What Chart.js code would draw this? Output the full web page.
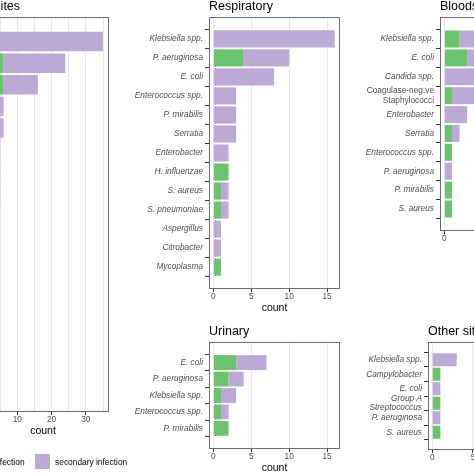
<!DOCTYPE html>
<html>
<head>
<meta charset="utf-8">
<script src="https://cdn.jsdelivr.net/npm/chart.js@4.4.1/dist/chart.umd.min.js"></script>
<style>
  html, body { margin: 0; padding: 0; width: 474px; height: 474px; overflow: hidden; background: #fff; }
  body { position: relative; }
  canvas { position: absolute; }
  #legend { position: absolute; left: -36px; top: 454px; height: 15px; display: flex; align-items: center;
            font: 8.4px 'Liberation Sans', Arial, sans-serif; color: #000; white-space: nowrap; }
  #legend .item { display: flex; align-items: center; margin-right: 10px; }
  #legend .key { width: 15px; height: 15px; margin-right: 5.5px; }
</style>
</head>
<body>
<canvas id="all"></canvas>
<canvas id="resp"></canvas>
<canvas id="blood"></canvas>
<canvas id="urin"></canvas>
<canvas id="other"></canvas>
<div id="legend"></div>
<script>
// series
const seriesNames = ["coinfection", "secondary infection"];

// all sites
const allCats = ["Klebsiella spp.", "E. coli", "P. aeruginosa", "Enterococcus spp.", "P. mirabilis", "Serratia", "Enterobacter", "Candida spp.", "Coagulase-neg.ve\nStaphylococci", "S. aureus", "H. influenzae", "S. pneumoniae", "Aspergillus", "Citrobacter", "Mycoplasma", "Campylobacter", "Group A\nStreptococcus"];
const allCo  = [3, 6, 6, 2, 3, 1, 0, 0, 1, 3, 2, 1, 0, 0, 1, 1, 1];
const allSec = [32, 18, 10, 4, 3, 4, 5, 5, 3, 1, 0, 1, 1, 1, 0, 0, 0];

// respiratory
const respCats = ["Klebsiella spp.", "P. aeruginosa", "E. coli", "Enterococcus spp.", "P. mirabilis", "Serratia", "Enterobacter", "H. influenzae", "S. aureus", "S. pneumoniae", "Aspergillus", "Citrobacter", "Mycoplasma"];
const respCo  = [0, 4, 0, 0, 0, 0, 0, 2, 1, 1, 0, 0, 1];
const respSec = [16, 6, 8, 3, 3, 3, 2, 0, 1, 1, 1, 1, 0];

// bloodstream
const bloodCats = ["Klebsiella spp.", "E. coli", "Candida spp.", "Coagulase-neg.ve\nStaphylococci", "Enterobacter", "Serratia", "Enterococcus spp.", "P. aeruginosa", "P. mirabilis", "S. aureus"];
const bloodCo  = [2, 3, 0, 1, 0, 1, 1, 0, 1, 1];
const bloodSec = [11, 5, 5, 3, 3, 1, 0, 1, 0, 0];

// urinary
const urinCats = ["E. coli", "P. aeruginosa", "Klebsiella spp.", "Enterococcus spp.", "P. mirabilis"];
const urinCo  = [3, 2, 1, 1, 2];
const urinSec = [4, 2, 2, 1, 0];

// other sites
const otherCats = ["Klebsiella spp.", "Campylobacter", "E. coli", "Group A\nStreptococcus", "P. aeruginosa", "S. aureus"];
const otherCo  = [0, 1, 0, 1, 0, 1];
const otherSec = [3, 0, 1, 0, 1, 0];

// tick labels
const ticksAll = [0, 5, 10, 15, 20, 25, 30, 35];
const ticksSite = [0, 5, 10, 15];
const uprightLabels = ["Coagulase-neg.ve\nStaphylococci"];

const colCo = "#6cc36d";
const colSec = "#bca9d6";
const fontFam = "'Liberation Sans', Arial, Helvetica, sans-serif";
Chart.defaults.font.family = fontFam;

// borde del panel (estilo ggplot)
const panelBorder = {
  id: "panelBorder",
  afterDraw(chart) {
    const { ctx, chartArea: a } = chart;
    ctx.save();
    ctx.strokeStyle = "#6b6b6b";
    ctx.lineWidth = 1;
    ctx.strokeRect(a.left + 0.5, a.top + 0.5, a.right - a.left - 1, a.bottom - a.top - 1);
    ctx.restore();
  }
};

function panel(id, box, title, cats, co, sec, xr, xTicks, labelEvery) {
  const el = document.getElementById(id);
  el.style.left = box.left + "px";
  el.style.top = box.top + "px";
  el.width = box.w;
  el.height = box.h;
  new Chart(el.getContext("2d"), {
    type: "bar",
    data: {
      datasets: [
        { label: seriesNames[0], data: co.map((v, i) => ({ x: v, y: i + 1 })), backgroundColor: colCo, categoryPercentage: 0.9, barPercentage: 1 },
        { label: seriesNames[1], data: sec.map((v, i) => ({ x: v, y: i + 1 })), backgroundColor: colSec, categoryPercentage: 0.9, barPercentage: 1 }
      ]
    },
    options: {
      indexAxis: "y",
      responsive: false,
      animation: false,
      layout: { padding: 0 },
      plugins: {
        legend: { display: false },
        tooltip: { enabled: false },
        title: {
          display: true, text: title, align: "start", fullSize: false, color: "#000",
          font: { size: 12.5, weight: "normal" }, padding: { top: 1, bottom: 3 }
        }
      },
      scales: {
        x: {
          type: "linear", stacked: true, bounds: "data", min: xr[0], max: xr[1],
          afterBuildTicks: s => { s.ticks = xTicks.map(v => ({ value: v })); },
          afterFit: s => { s.height = 25; },
          border: { display: false },
          grid: {
            color: "#e8e8e8", lineWidth: 1, tickLength: 3,
            tickColor: c => (c.tick && c.tick.value % labelEvery !== 0) ? "rgba(0,0,0,0)" : "#333"
          },
          ticks: {
            color: "#4d4d4d", font: { size: 8.3 }, padding: 0, maxRotation: 0, autoSkip: false,
            callback: v => (v % labelEvery === 0 ? String(v) : "")
          },
          title: { display: true, text: "count", color: "#000", font: { size: 10.5 }, padding: 0 }
        },
        y: {
          type: "linear", stacked: true, bounds: "data", reverse: true, min: 0.4, max: cats.length + 0.6,
          afterBuildTicks: s => { s.ticks = cats.map((c, i) => ({ value: i + 1 })); },
          afterFit: s => { s.width = box.yw; },
          border: { display: false },
          grid: { drawOnChartArea: false, tickLength: 4, tickColor: "#333" },
          ticks: {
            color: "#4d4d4d", padding: 2, autoSkip: false,
            font: c => {
              const lab = c.tick ? cats[Math.round(c.tick.value) - 1] : "";
              return { size: 8.3, lineHeight: 1.1, style: uprightLabels.includes(lab) ? "normal" : "italic" };
            },
            callback: v => {
              const lab = cats[Math.round(v) - 1];
              return lab ? lab.split("\n") : "";
            }
          }
        }
      }
    },
    plugins: [panelBorder]
  });
}

panel("all",   { left: -133, top: -2,  w: 242, h: 439, yw: 110 }, "All sites",   allCats,   allCo,   allSec,   [-1.75, 36.75], ticksAll, 10);
panel("resp",  { left: 120,  top: -2,  w: 220, h: 316, yw: 89 },  "Respiratory", respCats,  respCo,  respSec,  [-0.58, 16.7], ticksSite, 5);
panel("blood", { left: 350,  top: -2,  w: 221, h: 258, yw: 90 },  "Bloodstream", bloodCats, bloodCo, bloodSec, [-0.58, 16.7], ticksSite, 5);
panel("urin",  { left: 120,  top: 323, w: 220, h: 151, yw: 89 },  "Urinary",     urinCats,  urinCo,  urinSec,  [-0.58, 16.7], ticksSite, 5);
panel("other", { left: 350,  top: 323, w: 209, h: 152, yw: 78 },  "Other sites", otherCats, otherCo, otherSec, [-0.52, 15.45], ticksSite, 5);

// leyenda
const legend = document.getElementById("legend");
[colCo, colSec].forEach((col, i) => {
  const item = document.createElement("div");
  item.className = "item";
  const key = document.createElement("div");
  key.className = "key";
  key.style.background = col;
  const txt = document.createElement("span");
  txt.textContent = seriesNames[i];
  item.appendChild(key);
  item.appendChild(txt);
  legend.appendChild(item);
});
</script>
</body>
</html>
